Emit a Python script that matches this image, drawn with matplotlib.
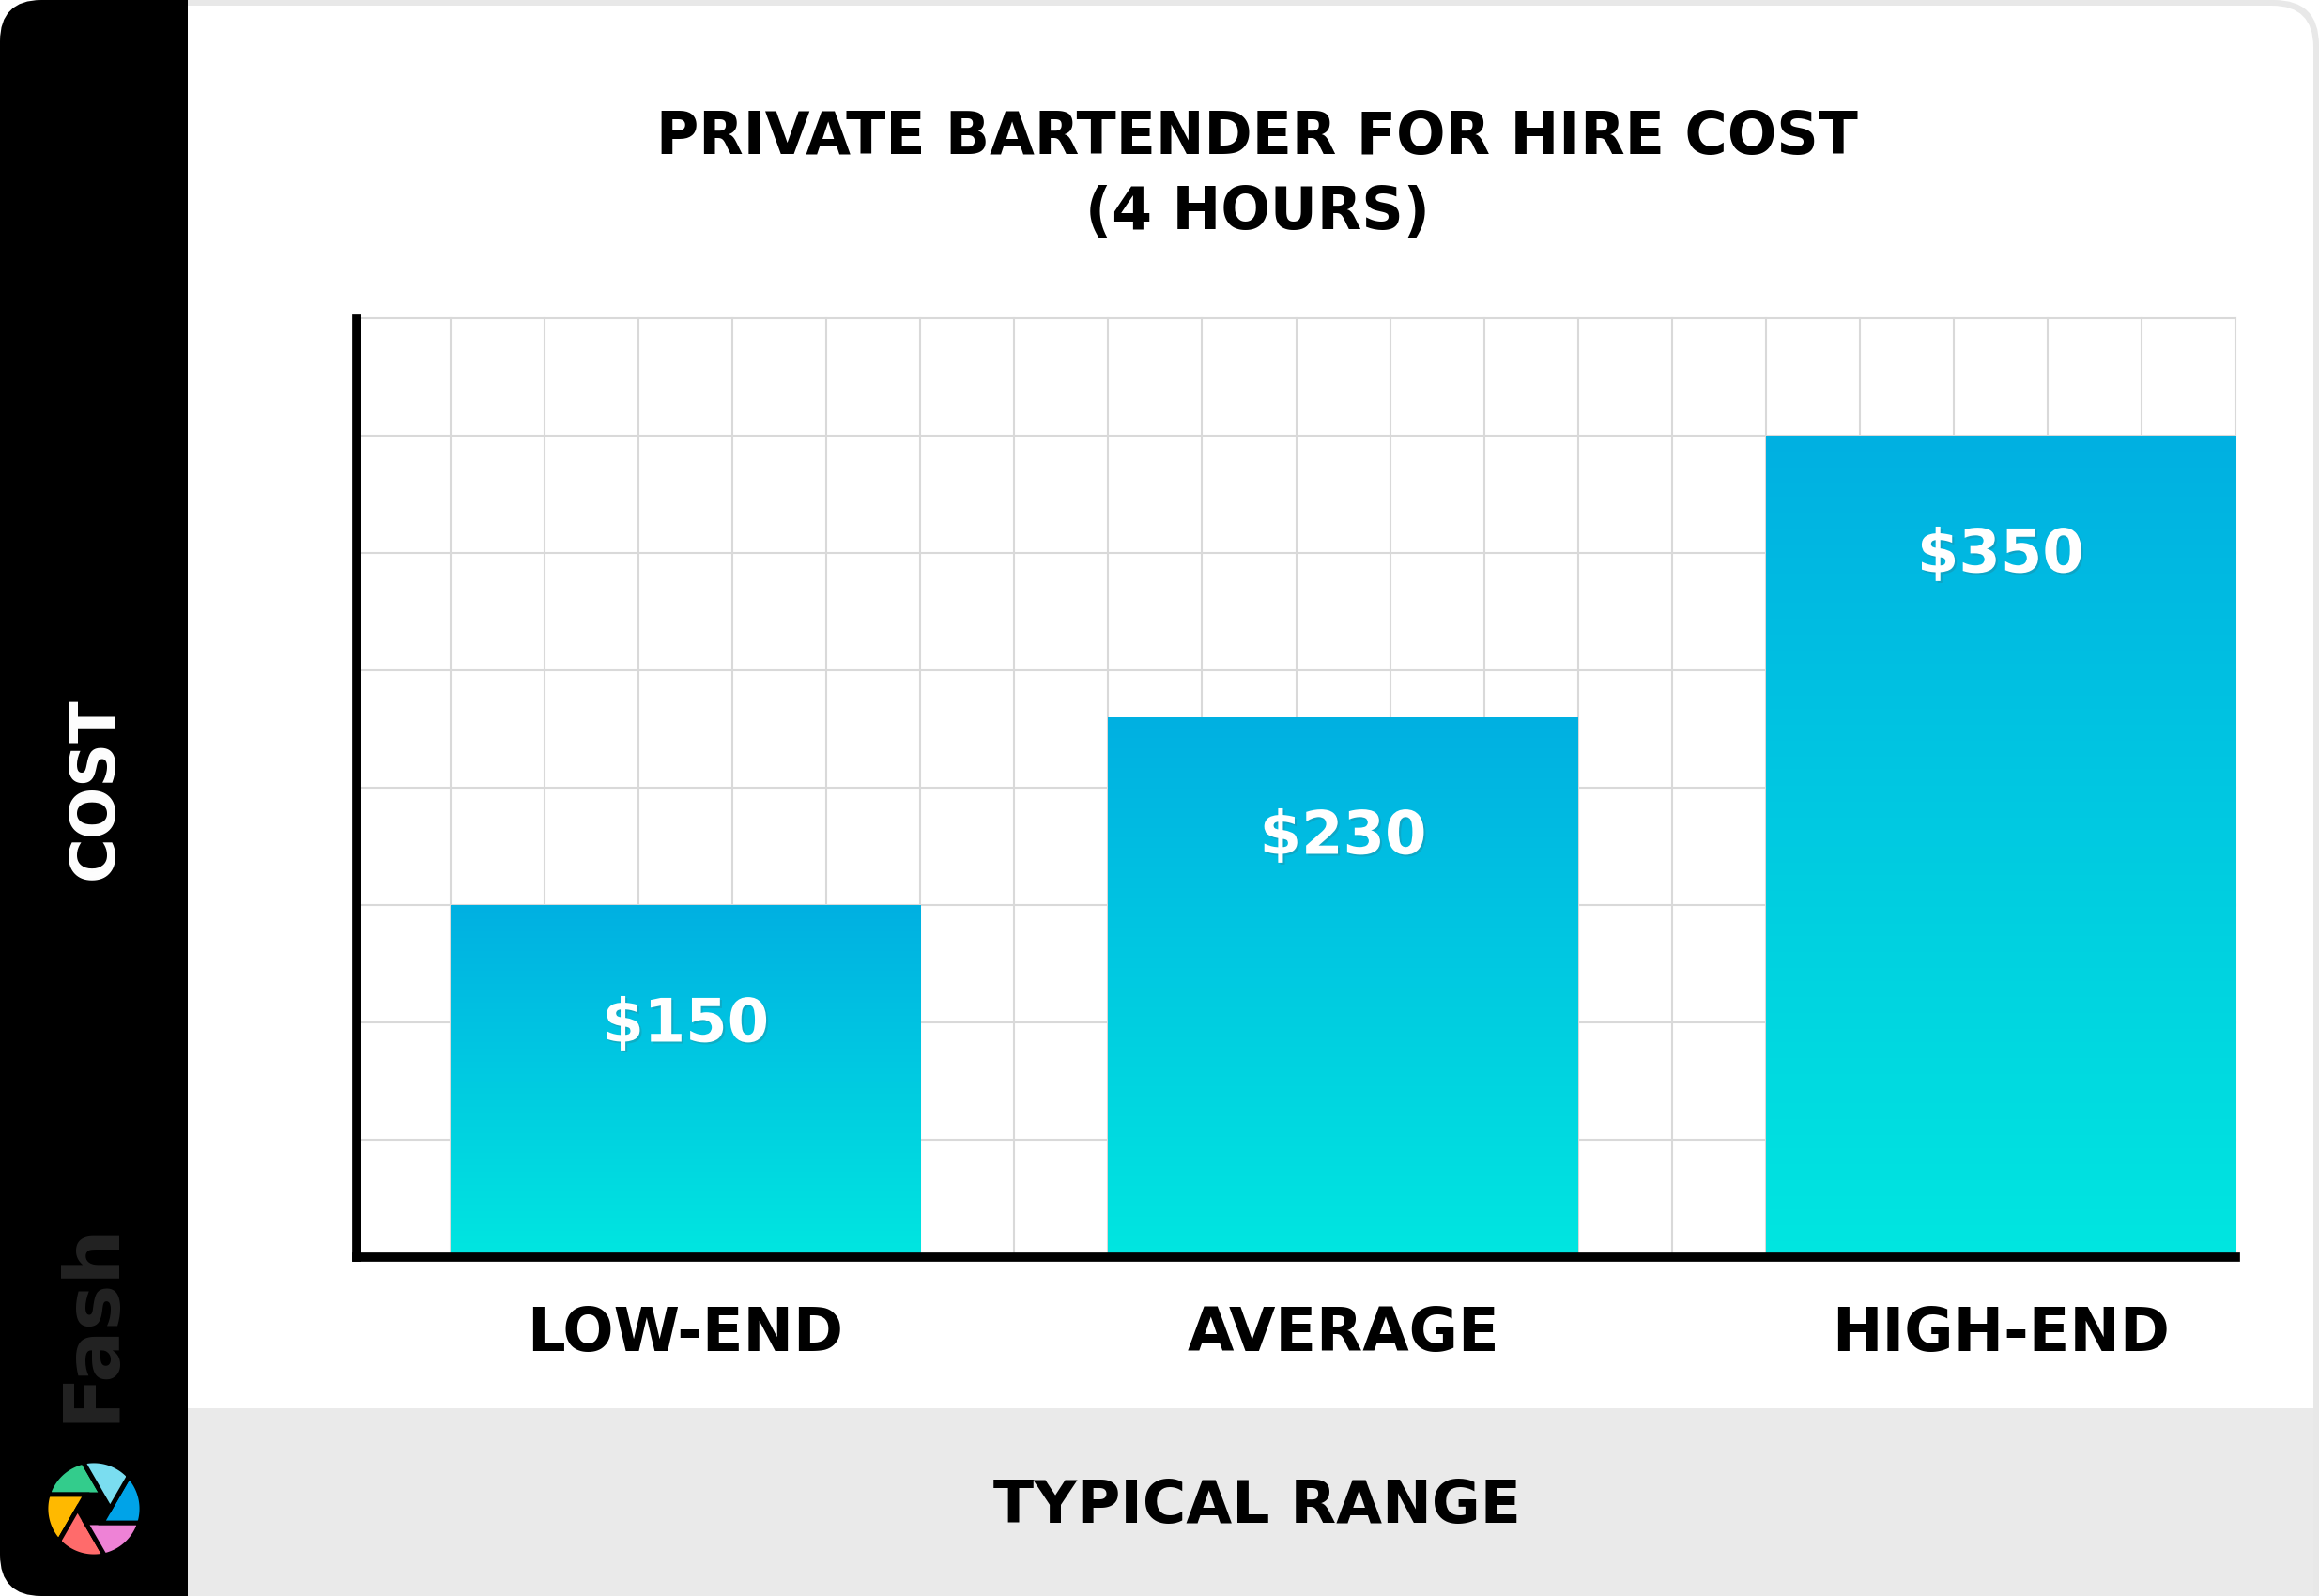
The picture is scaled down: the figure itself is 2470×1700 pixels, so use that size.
"""
Private bartender for hire cost - bar chart with gradient bars
"""

import matplotlib.pyplot as plt
import matplotlib.patheffects as pe
import numpy as np
from matplotlib.colors import LinearSegmentedColormap
from matplotlib.patches import FancyBboxPatch, Rectangle, Polygon

# Data
categories = ['LOW-END', 'AVERAGE', 'HIGH-END']
costs = [150, 230, 350]
labels = ['$150', '$230', '$350']
bar_left = [1, 8, 15]
bar_width = 5

title = 'PRIVATE BARTENDER FOR HIRE COST\n(4 HOURS)'
xlabel = 'TYPICAL RANGE'
ylabel = 'COST'

W, H = 2470, 1700
font = ['DejaVu Sans']

fig = plt.figure(figsize=(W / 100, H / 100), dpi=100)
fig.patch.set_facecolor('white')

# Background axes in pixel coordinates (y down)
bg = fig.add_axes([0, 0, 1, 1], zorder=0)
bg.set_xlim(0, W)
bg.set_ylim(H, 0)
bg.axis('off')

# card border + white card
bg.add_patch(FancyBboxPatch((0, 0), W, H + 80, boxstyle='round,pad=0,rounding_size=48',
                            facecolor='#E8E8E8', edgecolor='none'))
bg.add_patch(FancyBboxPatch((0, 6), W - 6, H + 80, boxstyle='round,pad=0,rounding_size=44',
                            facecolor='white', edgecolor='none'))
# gray band at the bottom
bg.add_patch(Rectangle((200, 1500), W - 206, 200, facecolor='#EAEAEA', edgecolor='none'))
# black side panel
bg.add_patch(FancyBboxPatch((0, 0), 200, H, boxstyle='round,pad=0,rounding_size=44',
                            facecolor='black', edgecolor='none'))
bg.add_patch(Rectangle((120, 0), 80, H, facecolor='black', edgecolor='none'))

bg.text(1339, 187, title, ha='center', va='center', fontsize=44.5, fontweight='bold',
        family=font, linespacing=1.42)
bg.text(1339, 1605, xlabel, ha='center', va='center', fontsize=45.5, fontweight='bold',
        family=font)
bg.text(102, 840, ylabel, ha='center', va='center', rotation=90, color='white',
        fontsize=47, fontweight='bold', family=font)
bg.text(98, 1408, 'Fash', ha='center', va='center', rotation=90, color='#232323',
        fontsize=59, fontweight='bold', family=font)

# aperture logo
cx, cy, R = 100, 1607, 51
hr = 0.34 * R
ang = np.radians(60 * np.arange(7))
hexv = np.c_[hr * np.cos(ang), hr * np.sin(ang)]
blade_colors = {0: '#00A3E8', 60: '#7ADDF0', 120: '#33CC8C', 180: '#FFB900',
                240: '#FF6B6B', 300: '#EE82D6'}


def ray_hit(p, d):
    b = np.dot(p, d)
    c = np.dot(p, p) - R ** 2
    t = -b + np.sqrt(b * b - c)
    return p + t * d


hits = []
for k in range(6):
    d = hexv[k + 1] - hexv[k]
    d = d / np.linalg.norm(d)
    hits.append(ray_hit(hexv[k + 1], d))
for k in range(6):
    a0 = np.arctan2(hits[k][1], hits[k][0])
    a1 = np.arctan2(hits[(k + 1) % 6][1], hits[(k + 1) % 6][0])
    if a1 < a0:
        a1 += 2 * np.pi
    arc = np.linspace(a0, a1, 30)
    pts = [hexv[(k + 1) % 6]] + [np.array([R * np.cos(a), R * np.sin(a)]) for a in arc] \
        + [hexv[(k + 2) % 6]]
    mid = np.degrees((a0 + a1) / 2) % 360
    key = min(blade_colors, key=lambda c: min(abs(mid - c), 360 - abs(mid - c)))
    pts = np.array(pts)
    bg.add_patch(Polygon(np.c_[cx + pts[:, 0], cy - pts[:, 1]], closed=True,
                         facecolor=blade_colors[key], edgecolor='black', linewidth=3.5))

# Main chart axes
ax = fig.add_axes([380 / W, (H - 1339) / H, 2001 / W, 1000 / H], zorder=1)
ax.patch.set_alpha(0)
ax.set_xlim(0, 20)
ax.set_ylim(0, 400)
ax.set_xticks(np.arange(0, 21, 1))
ax.set_yticks(np.arange(0, 401, 50))
ax.tick_params(length=0, labelbottom=False, labelleft=False)
ax.grid(True, color='#D9D9D9', linewidth=1.5, zorder=0)
ax.set_axisbelow(True)
for gl in ax.get_xgridlines() + ax.get_ygridlines():
    gl.set_clip_on(False)
for s in ['top', 'right']:
    ax.spines[s].set_visible(False)
for s in ['left', 'bottom']:
    ax.spines[s].set_linewidth(7)
    ax.spines[s].set_capstyle('projecting')
    ax.spines[s].set_zorder(5)

cmap = LinearSegmentedColormap.from_list('bar', ['#00E6E0', '#00B0E2'])
grad = np.linspace(0, 1, 256).reshape(-1, 1)
for x0, v, lab, cat in zip(bar_left, costs, labels, categories):
    ax.imshow(grad, cmap=cmap, origin='lower', aspect='auto',
              extent=[x0, x0 + bar_width, 0, v], zorder=2)
    ax.text(x0 + bar_width / 2, v - 51, lab, ha='center', va='center', color='white',
            fontsize=46, fontweight='bold', family=font, zorder=4,
            path_effects=[pe.withSimplePatchShadow(offset=(1.5, -1.5), alpha=0.18)])
    ax.text(x0 + bar_width / 2, -33, cat, ha='center', va='center', color='black',
            fontsize=46, fontweight='bold', family=font, clip_on=False)

fig.savefig('out.png', dpi=100)
